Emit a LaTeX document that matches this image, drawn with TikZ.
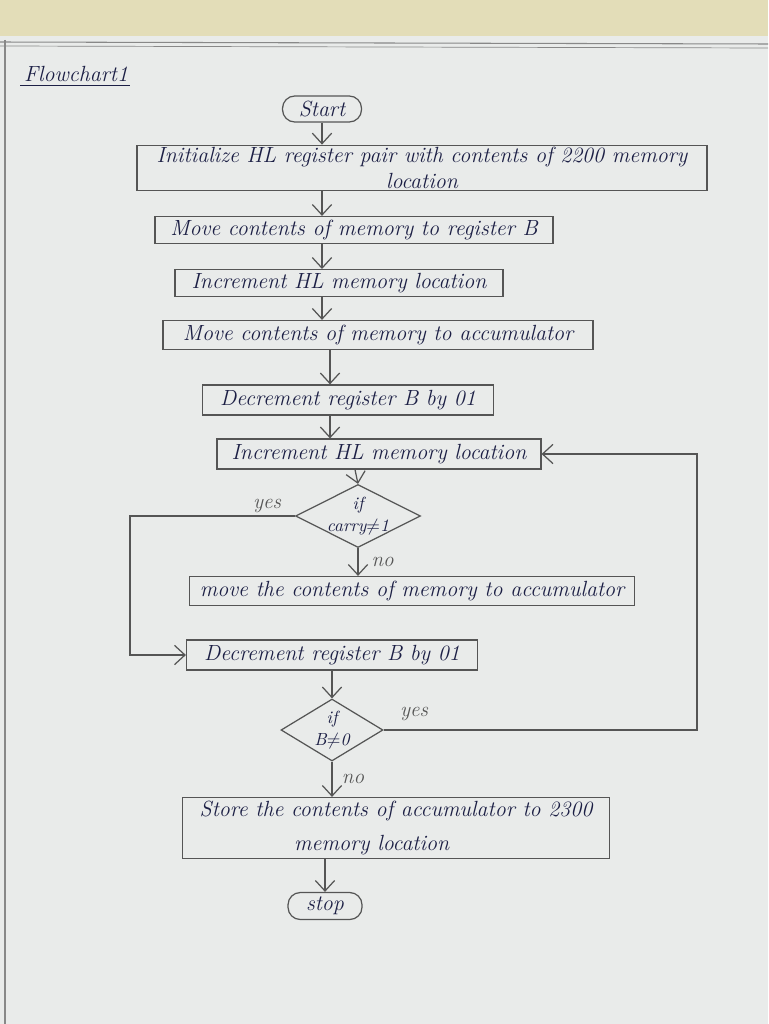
\documentclass[tikz,border=0pt]{standalone}
\usetikzlibrary{shapes.geometric,arrows.meta,calc}
\definecolor{paper}{HTML}{E9EBEA}
\definecolor{band}{HTML}{E3DDB8}
\definecolor{ink}{HTML}{1C1F45}
\definecolor{pencil}{HTML}{555555}
\begin{document}
\begin{tikzpicture}[x=0.02cm,y=-0.02cm,
  txt/.style={text=ink, font=\fontsize{12.5}{15}\selectfont\itshape},
  box/.style={txt, draw=pencil, line width=0.7pt, rectangle, inner sep=2pt},
  term/.style={box, rounded corners=7pt},
  dec/.style={txt, font=\fontsize{10}{12.5}\selectfont\itshape, align=center, draw=pencil, line width=0.7pt, diamond, aspect=2, inner sep=-5pt},
  arr/.style={draw=pencil, line width=0.7pt, -{Straight Barb[length=6pt,width=11pt]}},
  lbl/.style={text=pencil, font=\fontsize{12}{14}\selectfont\itshape}]
\useasboundingbox (0,0) rectangle (768,1024);
\fill[paper] (0,0) rectangle (768,1024);
\fill[band] (0,0) rectangle (768,36);
\draw[pencil!70, line width=0.6pt] (0,42) -- (768,44);
\draw[pencil!70, line width=0.4pt] (0,46) -- (768,48);
\draw[pencil!70, line width=0.6pt] (5,40) -- (5,1024);

% title
\node[txt, anchor=west] (title) at (18,74) {Flowchart1};
\draw[ink, line width=0.6pt] (title.south west) ++(2,-2) -- ++(110,0);

% columns
\coordinate (c322) at (322,0);
\coordinate (c330) at (330,0);
\coordinate (c355) at (355,0);

\node[term, minimum width=1.58cm, minimum height=0.52cm] (start) at (322,109) {Start};
\node[box, minimum width=11.4cm, minimum height=0.8cm, align=center, inner sep=1pt] (init) at (422,168)
  {Initialize HL register pair with contents of 2200 memory\\location};
\node[box, minimum width=7.96cm, minimum height=0.52cm] (moveb) at (354,230) {Move contents of memory to register B};
\node[box, minimum width=6.56cm, minimum height=0.52cm] (inchl) at (339,283) {Increment HL memory location};
\node[box, minimum width=8.6cm, minimum height=0.58cm] (moveacc) at (378,335) {Move contents of memory to accumulator};
\node[box, minimum width=5.82cm, minimum height=0.6cm] (decb) at (348,400) {Decrement register B by 01};
\node[box, minimum width=6.48cm, minimum height=0.6cm] (inchlb) at (379,454) {Increment HL memory location};
\node[dec, minimum width=2.5cm, minimum height=1.26cm] (d1) at (358,516) {if\\carry$\neq$1};
\node[box, minimum width=8.9cm, minimum height=0.58cm] (movea) at (412,591) {move the contents of memory to accumulator};
\node[box, minimum width=5.82cm, minimum height=0.6cm] (decbb) at (332,655) {Decrement register B by 01};
\node[dec, minimum width=2.04cm, minimum height=1.24cm] (d2) at (332,730) {if\\B$\neq$0};
\node[box, minimum width=8.54cm, minimum height=1.22cm, align=left, inner sep=1pt] (store) at (396,828)
  {Store the contents of accumulator to 2300\\[4pt]\hspace{4.3em}memory location};
\node[term, minimum width=1.48cm, minimum height=0.54cm] (stop) at (325,906) {stop};

% connectors
\draw[arr] (start.south) -- (init.north -| start.south);
\draw[arr] (init.south -| c322) -- (moveb.north -| c322);
\draw[arr] (moveb.south -| c322) -- (inchl.north -| c322);
\draw[arr] (inchl.south -| c322) -- (moveacc.north -| c322);
\draw[arr] (moveacc.south -| c330) -- (decb.north -| c330);
\draw[arr] (decb.south -| c330) -- (inchlb.north -| c330);
\draw[arr] (inchlb.south -| c355) -- (d1.north);
\draw[arr] (d1.south) -- (movea.north -| d1.south) node[lbl, midway, right, xshift=4pt] {no};
\coordinate (cL) at (130,655);
\draw[arr] (d1.west) -| (cL) -- (decbb.west);
\node[lbl] at (267,506) {yes};
\draw[arr] (decbb.south -| d2.north) -- (d2.north);
\coordinate (cR) at (697,730);
\draw[arr] (d2.east) -- (cR) |- (inchlb.east);
\node[lbl] at (414,714) {yes};
\draw[arr] (d2.south) -- (store.north -| d2.south) node[lbl, midway, right, xshift=2pt] {no};
\draw[arr] (store.south -| stop.north) -- (stop.north);
\end{tikzpicture}
\end{document}
